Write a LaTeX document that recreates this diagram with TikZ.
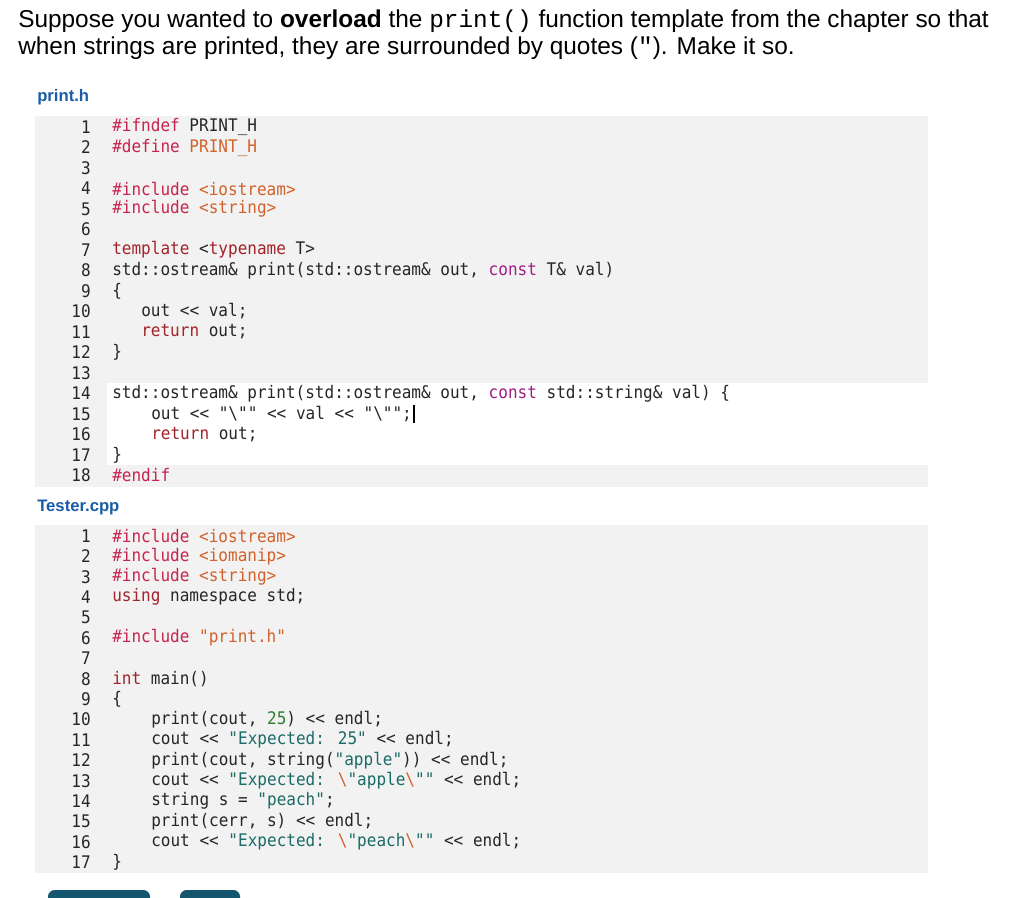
\documentclass[tikz,border=0pt]{standalone}
\usepackage{fontspec}
\setmainfont{Liberation Sans}
\newfontfamily\codefont{DejaVu Sans Mono}[FakeStretch=0.925]
\newfontfamily\titlemono{Liberation Mono}
\definecolor{pp}{HTML}{C8234F}
\definecolor{strc}{HTML}{D0622A}
\definecolor{kwc}{HTML}{A3232B}
\definecolor{cst}{HTML}{A01E86}
\definecolor{tstr}{HTML}{1B6B66}
\definecolor{numc}{HTML}{2E7D32}
\definecolor{hdr}{HTML}{1A5CA8}
\definecolor{panel}{HTML}{F2F2F2}
\definecolor{btn}{HTML}{14566E}
\newcommand\PP[1]{\textcolor{pp}{#1}}
\newcommand\SC[1]{\textcolor{strc}{#1}}
\newcommand\KW[1]{\textcolor{kwc}{#1}}
\newcommand\CS[1]{\textcolor{cst}{#1}}
\newcommand\TS[1]{\textcolor{tstr}{#1}}
\newcommand\NM[1]{\textcolor{numc}{#1}}
\newcommand\BS{\textbackslash}
\tikzset{
 codeln/.style={anchor=west,inner sep=0,font=\codefont\fontsize{13}{15}\selectfont,text=black!85},
 numln/.style={anchor=east,inner sep=0,font=\codefont\fontsize{13}{15}\selectfont,text=black!85},
 hdrtxt/.style={anchor=west,inner sep=0,font=\fontsize{12.5}{14}\selectfont\bfseries,text=hdr},
 title/.style={anchor=west,inner sep=0,font=\fontsize{18.3}{21}\selectfont},
}
\begin{document}
\begin{tikzpicture}[x=0.75pt,y=-0.75pt]
\useasboundingbox (0,0) rectangle (1024,898);
\fill[white] (0,0) rectangle (1024,898);
% title
\node[title] (t1) at (18,21) {Suppose you wanted to \textbf{overload} the {\titlemono print()} function template from the chapter so that};
\node[title] (t2) at (18,48) {when strings are printed, they are surrounded by quotes ({\titlemono "}). Make it so.};
% print.h
\node[hdrtxt] (h1) at (37,97) {print.h};
\fill[panel] (35,116) rectangle (928,487);
\fill[white] (107,383) rectangle (928,465);
\foreach \i in {1,...,18} {\node[numln] (pn\i) at (91,{127+(\i-1)*20.5}) {\i};}
\newcommand\PL[3]{\node[codeln] (p#1) at (#2,{127+(#1-1)*20.5}) {#3};}
\PL{1}{112}{\PP{\#ifndef} PRINT\_H}
\PL{2}{112}{\PP{\#define} \SC{PRINT\_H}}
\PL{4}{112}{\PP{\#include} \SC{<iostream>}}
\PL{5}{112}{\PP{\#include} \SC{<string>}}
\PL{7}{112}{\KW{template} <\KW{typename} T>}
\PL{8}{112}{std::ostream\& print(std::ostream\& out, \CS{const} T\& val)}
\PL{9}{112}{\{}
\PL{10}{141}{out << val;}
\PL{11}{141}{\KW{return} out;}
\PL{12}{112}{\}}
\PL{14}{112}{std::ostream\& print(std::ostream\& out, \CS{const} std::string\& val) \{}
\PL{15}{151}{out << "\BS"" << val << "\BS"";}
\PL{16}{151}{\KW{return} out;}
\PL{17}{112}{\}}
\PL{18}{112}{\PP{\#endif}}
\draw[black,line width=1.2pt] (p15.east) ++(2,-9) -- ++(0,18);
% Tester.cpp
\node[hdrtxt] (h2) at (37,507) {Tester.cpp};
\fill[panel] (35,525) rectangle (928,873);
\foreach \i in {1,...,17} {\node[numln] (tn\i) at (91,{536+(\i-1)*20.4}) {\i};}
\newcommand\TL[3]{\node[codeln] (q#1) at (#2,{536+(#1-1)*20.4}) {#3};}
\TL{1}{112}{\PP{\#include} \SC{<iostream>}}
\TL{2}{112}{\PP{\#include} \SC{<iomanip>}}
\TL{3}{112}{\PP{\#include} \SC{<string>}}
\TL{4}{112}{\KW{using} namespace std;}
\TL{6}{112}{\PP{\#include} \SC{"print.h"}}
\TL{8}{112}{\KW{int} main()}
\TL{9}{112}{\{}
\TL{10}{151}{print(cout, \NM{25}) << endl;}
\TL{11}{151}{cout << \TS{"Expected: 25"} << endl;}
\TL{12}{151}{print(cout, string(\TS{"apple"})) << endl;}
\TL{13}{151}{cout << \TS{"Expected: }\SC{\BS}\TS{"apple}\SC{\BS}\TS{""} << endl;}
\TL{14}{151}{string s = \TS{"peach"};}
\TL{15}{151}{print(cerr, s) << endl;}
\TL{16}{151}{cout << \TS{"Expected: }\SC{\BS}\TS{"peach}\SC{\BS}\TS{""} << endl;}
\TL{17}{112}{\}}
% buttons (cut off)
\fill[btn,rounded corners=5pt] (48,890) rectangle (150,910);
\fill[btn,rounded corners=5pt] (180,890) rectangle (240,910);
\end{tikzpicture}
\end{document}
